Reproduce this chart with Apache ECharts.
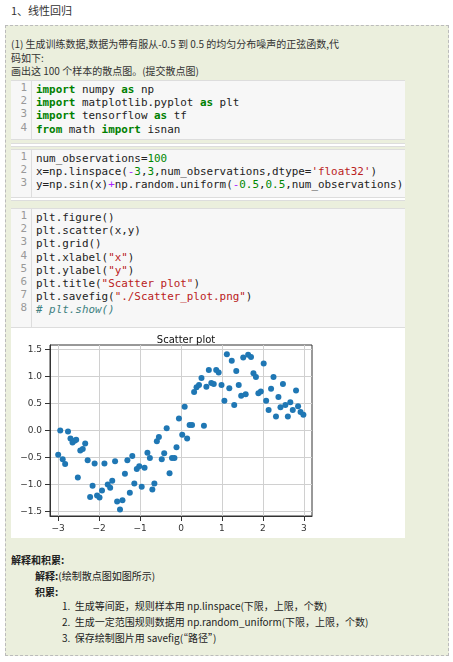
<!DOCTYPE html>
<html>
<head>
<meta charset="utf-8">
<script src="https://cdn.jsdelivr.net/npm/echarts@6/dist/echarts.min.js"></script>
<style>
body{margin:0;width:453px;height:662px;background:#fff;position:relative;font-family:"Noto Sans CJK SC","Noto Sans",sans-serif;overflow:hidden}
.abs{position:absolute}
#box{left:5px;top:25px;width:442px;height:629px;background:#ebefdd;border:1px dashed #bbb}
.code{left:11px;width:394px;background:#f7f7f7;border-top:1px solid #ddd;border-bottom:1px solid #ddd;font-family:"DejaVu Sans Mono",monospace;font-size:10.9px;line-height:13.2px;color:#222}
.code .ln{position:absolute;left:0;top:0;bottom:0;width:20px;border-right:1px solid #ddd;color:#999;text-align:right;padding-right:0}
.code pre{margin:0;padding-left:25px;font:inherit}
.code .ln pre{padding:0 4px 0 0}
.k{color:#008000;font-weight:bold}.n{color:#008800}.s{color:#ba2121}.c{color:#408080;font-style:italic}.o{color:#aa22ff}
.t{font-size:10px;color:#333;left:11px}
.note{font-size:10px;color:#222}
</style>
</head>
<body>
<div class="abs" style="left:11px;top:2px;font-size:11px;color:#333">1、线性回归</div>
<div class="abs" id="box"></div>
<div class="abs t" style="top:37px;line-height:13.5px;width:360px">(1) 生成训练数据,数据为带有服从-0.5 到 0.5 的均匀分布噪声的正弦函数,代<br>码如下:<br>画出这 100 个样本的散点图。(提交散点图)</div>
<div class="abs code" style="top:80px;height:56px;padding-top:2px"><div class="ln"><pre>1
2
3
4</pre></div><pre><span class="k">import</span> numpy <span class="k">as</span> np
<span class="k">import</span> matplotlib.pyplot <span class="k">as</span> plt
<span class="k">import</span> tensorflow <span class="k">as</span> tf
<span class="k">from</span> math <span class="k">import</span> isnan</pre></div>
<div class="abs code" style="top:143px;height:2px;background:#fff"></div>
<div class="abs code" style="top:149px;height:45px;padding-top:2px"><div class="ln"><pre>1
2
3</pre></div><pre>num_observations=<span class="n">100</span>
x=np.linspace(<span class="o">-</span><span class="n">3</span>,<span class="n">3</span>,num_observations,dtype=<span class="s">'float32'</span>)
y=np.sin(x)<span class="o">+</span>np.random.uniform(<span class="o">-</span><span class="n">0.5</span>,<span class="n">0.5</span>,num_observations)</pre></div>
<div class="abs code" style="top:197px;height:2px;background:#fff"></div>
<div class="abs code" style="top:208px;height:116px;padding-top:2px"><div class="ln"><pre>1
2
3
4
5
6
7
8</pre></div><pre>plt.figure()
plt.scatter(x,y)
plt.grid()
plt.xlabel(<span class="s">"x"</span>)
plt.ylabel(<span class="s">"y"</span>)
plt.title(<span class="s">"Scatter plot"</span>)
plt.savefig(<span class="s">"./Scatter_plot.png"</span>)
<span class="c"># plt.show()</span></pre></div>
<div class="abs" id="chart" style="left:11px;top:328px;width:394px;height:210px;background:#fff"></div>
<div class="abs note" style="left:11px;top:552px;font-weight:bold">解释和积累:</div>
<div class="abs note" style="left:35px;top:568px"><b>解释:</b>(绘制散点图如图所示)</div>
<div class="abs note" style="left:35px;top:584px;font-weight:bold">积累:</div>
<div class="abs note" style="left:62px;top:598px">1.&nbsp; 生成等间距，规则样本用 np.linspace(下限，上限，个数)</div>
<div class="abs note" style="left:62px;top:614px">2.&nbsp; 生成一定范围规则数据用 np.random_uniform(下限，上限，个数)</div>
<div class="abs note" style="left:62px;top:630px">3.&nbsp; 保存绘制图片用 savefig(“路径”)</div>
<script>
const xs = [-3.0,-2.95,-2.89,-2.83,-2.76,-2.70,-2.65,-2.60,-2.56,-2.52,-2.46,-2.40,-2.34,-2.28,-2.22,-2.16,-2.11,-2.05,-1.99,-1.93,
  -1.87,-1.79,-1.73,-1.68,-1.61,-1.56,-1.49,-1.43,-1.37,-1.31,-1.25,-1.19,-1.14,-1.08,-1.02,-0.96,-0.89,-0.82,-0.76,-0.70,
  -0.65,-0.59,-0.54,-0.47,-0.41,-0.35,-0.28,-0.22,-0.16,-0.11,-0.05,0.03,0.09,0.15,0.21,0.27,0.32,0.38,0.44,0.50,
  0.56,0.62,0.68,0.74,0.80,0.86,0.92,0.99,1.06,1.12,1.18,1.24,1.30,1.35,1.41,1.47,1.52,1.58,1.64,1.71,
  1.77,1.83,1.89,1.95,2.02,2.08,2.14,2.20,2.26,2.32,2.38,2.43,2.49,2.55,2.61,2.67,2.73,2.81,2.86,2.92,2.99];
const ys = [-0.45,0.0,-0.53,-0.62,-0.02,-0.15,-0.22,-0.19,-0.17,-0.87,-0.37,-0.34,-0.24,-0.55,-1.23,-1.02,-0.61,-1.2,-1.24,-1.11,
  -0.61,-1.0,-1.06,-0.93,-0.57,-1.31,-1.46,-1.29,-0.8,-0.55,-1.15,-0.47,-0.98,-0.71,-0.66,-1.04,-0.69,-0.41,-0.51,-1.09,
  -0.98,-0.2,-0.12,-0.53,-0.42,0.04,-0.79,-0.51,-0.51,-0.31,0.22,-0.08,0.44,-0.15,0.1,0.1,0.71,0.8,0.84,0.97,
  0.09,0.81,1.12,0.88,0.86,1.12,1.07,0.84,0.55,1.41,0.78,1.29,0.47,1.1,0.84,0.64,1.35,0.67,1.4,1.36,
  1.06,0.99,0.69,0.72,1.24,0.55,0.38,0.77,0.99,0.26,0.62,0.43,0.86,0.47,0.26,0.52,0.38,0.74,0.45,0.34,0.29];
const xTicks = [-3, -2, -1, 0, 1, 2, 3];
const yTicks = [-1.5, -1.0, -0.5, 0.0, 0.5, 1.0, 1.5];

const chart = echarts.init(document.getElementById('chart'));
const gridLine = {show: true, lineStyle: {color: '#d0d0d0', width: 1}};
const axisTxt = {color: '#333', fontSize: 9, fontFamily: 'DejaVu Sans'};
chart.setOption({
  animation: false,
  title: {text: 'Scatter plot', left: 170, top: 2, textAlign: 'center',
    textStyle: {fontSize: 10, fontWeight: 'normal', color: '#111', fontFamily: 'DejaVu Sans'}},
  grid: {left: 39, right: 93, top: 17, bottom: 22, outerBoundsMode: 'none', containLabel: false,
    show: true, borderColor: '#333', borderWidth: 1},
  xAxis: {type: 'value', min: -3.2, max: 3.2, interval: 1,
    name: 'x', nameLocation: 'middle', nameGap: 14, nameTextStyle: {fontSize: 8, color: '#333'},
    axisLine: {show: true, onZero: false, lineStyle: {color: '#333'}},
    axisTick: {show: true, customValues: xTicks, lineStyle: {color: '#333'}},
    axisLabel: Object.assign({customValues: xTicks, formatter: v => (v < 0 ? '\u2212' + (-v) : v)}, axisTxt),
    splitLine: gridLine},
  yAxis: {type: 'value', min: -1.58, max: 1.58,
    name: 'y', nameLocation: 'middle', nameGap: 30, nameTextStyle: {fontSize: 8, color: '#333'},
    axisLine: {show: true, onZero: false, lineStyle: {color: '#333'}},
    axisTick: {show: true, customValues: yTicks, lineStyle: {color: '#333'}},
    axisLabel: Object.assign({customValues: yTicks, formatter: v => (v < 0 ? '\u2212' : '') + Math.abs(v).toFixed(1)}, axisTxt),
    splitLine: gridLine},
  series: [{type: 'scatter', symbolSize: 6, itemStyle: {color: '#1f77b4', opacity: 1},
    data: xs.map((x, i) => [x, ys[i]])}]
});
</script>
</body>
</html>
